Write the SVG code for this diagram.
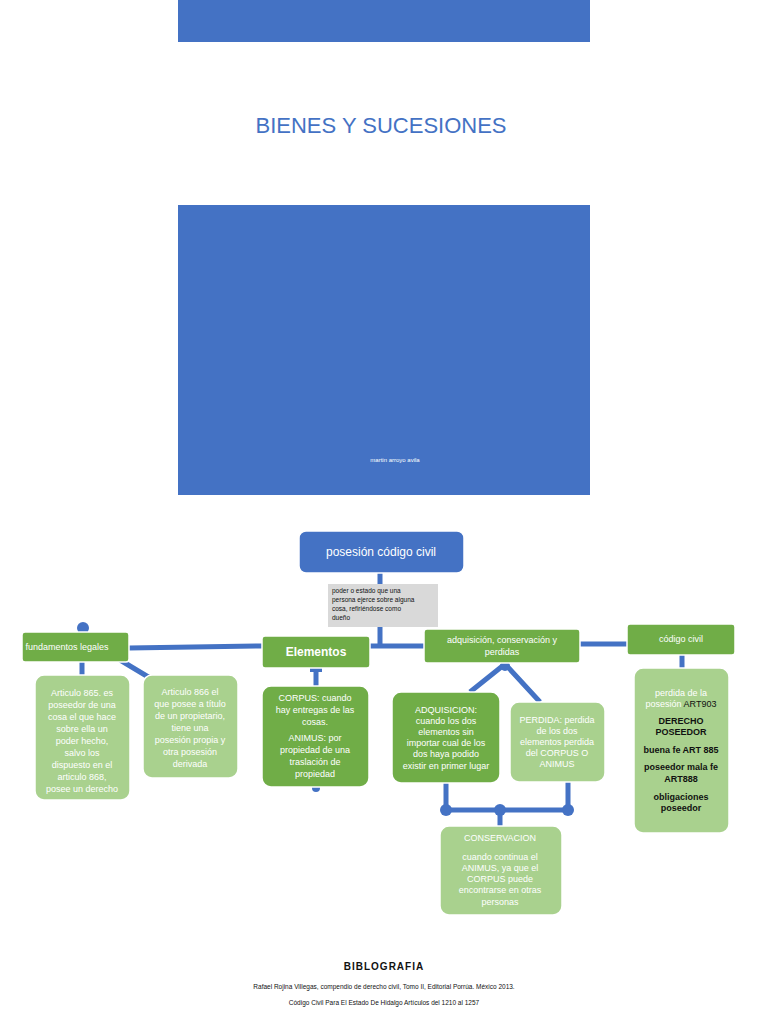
<svg xmlns="http://www.w3.org/2000/svg" width="768" height="1024" viewBox="0 0 768 1024">
<style>
text{font-family:"Liberation Sans",Arial,sans-serif;text-anchor:middle}
.g{fill:#70ad47;stroke:#fff;stroke-width:1.5}
.l{fill:#a9d18e;stroke:#fff;stroke-width:1.5}
.w{fill:#fff;font-size:9px}
.k{fill:#111;font-size:9px;font-weight:bold}
.c{stroke:#4472c4;stroke-width:5;fill:none}
</style>
<rect width="768" height="1024" fill="#fff"/>
<rect x="178" y="0" width="412" height="42" fill="#4472c4"/>
<text x="381" y="133" font-size="22" fill="#4472c4">BIENES Y SUCESIONES</text>
<rect x="178" y="205" width="412" height="290" fill="#4472c4"/>
<text x="395" y="462" font-size="6" fill="#fff">martin arroyo avila</text>
<g id="connectors" fill="#4472c4">
<path class="c" d="M380 573V646M129 648L262 646M370 646H424M580 644H627M82 662V675M120 660L150 678M316 668V686M505 664L470 692M505 664L540 702M446 783V810H568V782M500 810V826M682 655V668"/>
<circle cx="83" cy="628" r="6"/><rect x="78" y="628" width="10" height="4"/>
<circle cx="505" cy="666" r="5"/><circle cx="446" cy="810" r="6"/><circle cx="500" cy="810" r="6"/><circle cx="568" cy="810" r="6"/>
<rect x="310" y="668" width="12" height="4"/><circle cx="316" cy="788" r="4"/>
</g>
<g id="n-root"><rect x="299" y="531" width="165" height="42" rx="7" fill="#4472c4" stroke="#fff" stroke-width="1.5"/><text x="381" y="556" font-size="12" fill="#fff">posesión código civil</text></g>
<g id="n-def"><rect x="328" y="584" width="110" height="43" fill="#d9d9d9"/>
<text x="332" y="593" font-size="6.5" style="text-anchor:start" fill="#111">poder o estado que una</text>
<text x="332" y="602" font-size="6.5" style="text-anchor:start" fill="#111">persona ejerce sobre alguna</text>
<text x="332" y="611" font-size="6.5" style="text-anchor:start" fill="#111">cosa, refiriéndose como</text>
<text x="332" y="620" font-size="6.5" style="text-anchor:start" fill="#111">dueño</text></g>
<g id="n-fund"><rect class="g" x="22" y="632" width="107" height="30" rx="3"/><text class="w" x="67" y="650">fundamentos legales</text></g>
<g id="n-elem"><rect class="g" x="262" y="636" width="108" height="32" rx="3"/><text x="316" y="656" font-size="12" fill="#fff" font-weight="bold">Elementos</text></g>
<g id="n-adq"><rect class="g" x="424" y="629" width="156" height="34" rx="3"/><text class="w" x="502" y="643">adquisición, conservación y</text><text class="w" x="502" y="655">perdidas</text></g>
<g id="n-cc"><rect class="g" x="627" y="624" width="108" height="31" rx="3"/><text class="w" x="681" y="642">código civil</text></g>
<g id="n-865"><rect class="l" x="35" y="675" width="95" height="125" rx="9"/>
<text class="w"><tspan x="82" y="696">Articulo 865. es</tspan><tspan x="82" y="708">poseedor de una</tspan><tspan x="82" y="720">cosa el que hace</tspan><tspan x="82" y="732">sobre ella un</tspan><tspan x="82" y="744">poder hecho,</tspan><tspan x="82" y="756">salvo los</tspan><tspan x="82" y="768">dispuesto en el</tspan><tspan x="82" y="780">articulo 868,</tspan><tspan x="82" y="792">posee un derecho</tspan></text></g>
<g id="n-866"><rect class="l" x="143" y="675" width="95" height="103" rx="9"/>
<text class="w"><tspan x="190" y="695">Articulo 866 el</tspan><tspan x="190" y="707">que posee a título</tspan><tspan x="190" y="719">de un propietario,</tspan><tspan x="190" y="731">tiene una</tspan><tspan x="190" y="743">posesión propia y</tspan><tspan x="190" y="755">otra posesión</tspan><tspan x="190" y="767">derivada</tspan></text></g>
<g id="n-corpus"><rect class="g" x="262" y="686" width="107" height="101" rx="9"/>
<text class="w"><tspan x="315" y="701">CORPUS: cuando</tspan><tspan x="315" y="713">hay entregas de las</tspan><tspan x="315" y="725">cosas.</tspan><tspan x="315" y="741">ANIMUS: por</tspan><tspan x="315" y="753">propiedad de una</tspan><tspan x="315" y="765">traslación de</tspan><tspan x="315" y="777">propiedad</tspan></text></g>
<g id="n-adquis"><rect class="g" x="392" y="692" width="108" height="91" rx="9"/>
<text class="w"><tspan x="446" y="713">ADQUISICION:</tspan><tspan x="446" y="724">cuando los dos</tspan><tspan x="446" y="735">elementos sin</tspan><tspan x="446" y="746">importar cual de los</tspan><tspan x="446" y="757">dos haya podido</tspan><tspan x="446" y="769">existir en primer lugar</tspan></text></g>
<g id="n-perd"><rect class="l" x="510" y="702" width="95" height="80" rx="9"/>
<text class="w" font-size="8"><tspan x="557" y="723">PERDIDA: perdida</tspan><tspan x="557" y="734">de los dos</tspan><tspan x="557" y="745">elementos perdida</tspan><tspan x="557" y="756">del CORPUS O</tspan><tspan x="557" y="767">ANIMUS</tspan></text></g>
<g id="n-cons"><rect class="l" x="440" y="826" width="122" height="89" rx="9"/>
<text class="w"><tspan x="500" y="841">CONSERVACION</tspan><tspan x="500" y="860">cuando continua el</tspan><tspan x="500" y="871">ANIMUS, ya que el</tspan><tspan x="500" y="882">CORPUS puede</tspan><tspan x="500" y="893">encontrarse en otras</tspan><tspan x="500" y="905">personas</tspan></text></g>
<g id="n-cc2"><rect class="l" x="634" y="668" width="95" height="165" rx="9"/>
<text class="w" x="681" y="696">perdida de la</text>
<text x="681" y="707" font-size="9"><tspan fill="#fff">posesión </tspan><tspan fill="#111">ART903</tspan></text>
<text class="k"><tspan x="681" y="724">DERECHO</tspan><tspan x="681" y="735">POSEEDOR</tspan><tspan x="681" y="753">buena fe ART 885</tspan><tspan x="681" y="770">poseedor mala fe</tspan><tspan x="681" y="782">ART888</tspan><tspan x="681" y="800">obligaciones</tspan><tspan x="681" y="811">poseedor</tspan></text></g>
<text x="384" y="970" font-size="10" font-weight="bold" fill="#111" letter-spacing="1">BIBLOGRAFIA</text>
<text x="384" y="989" font-size="6.5" fill="#111">Rafael Rojina Villegas, compendio de derecho civil, Tomo II, Editorial Porrúa. México 2013.</text>
<text x="384" y="1005" font-size="6.5" fill="#111">Código Civil Para El Estado De Hidalgo Artículos del 1210 al 1257</text>
</svg>
